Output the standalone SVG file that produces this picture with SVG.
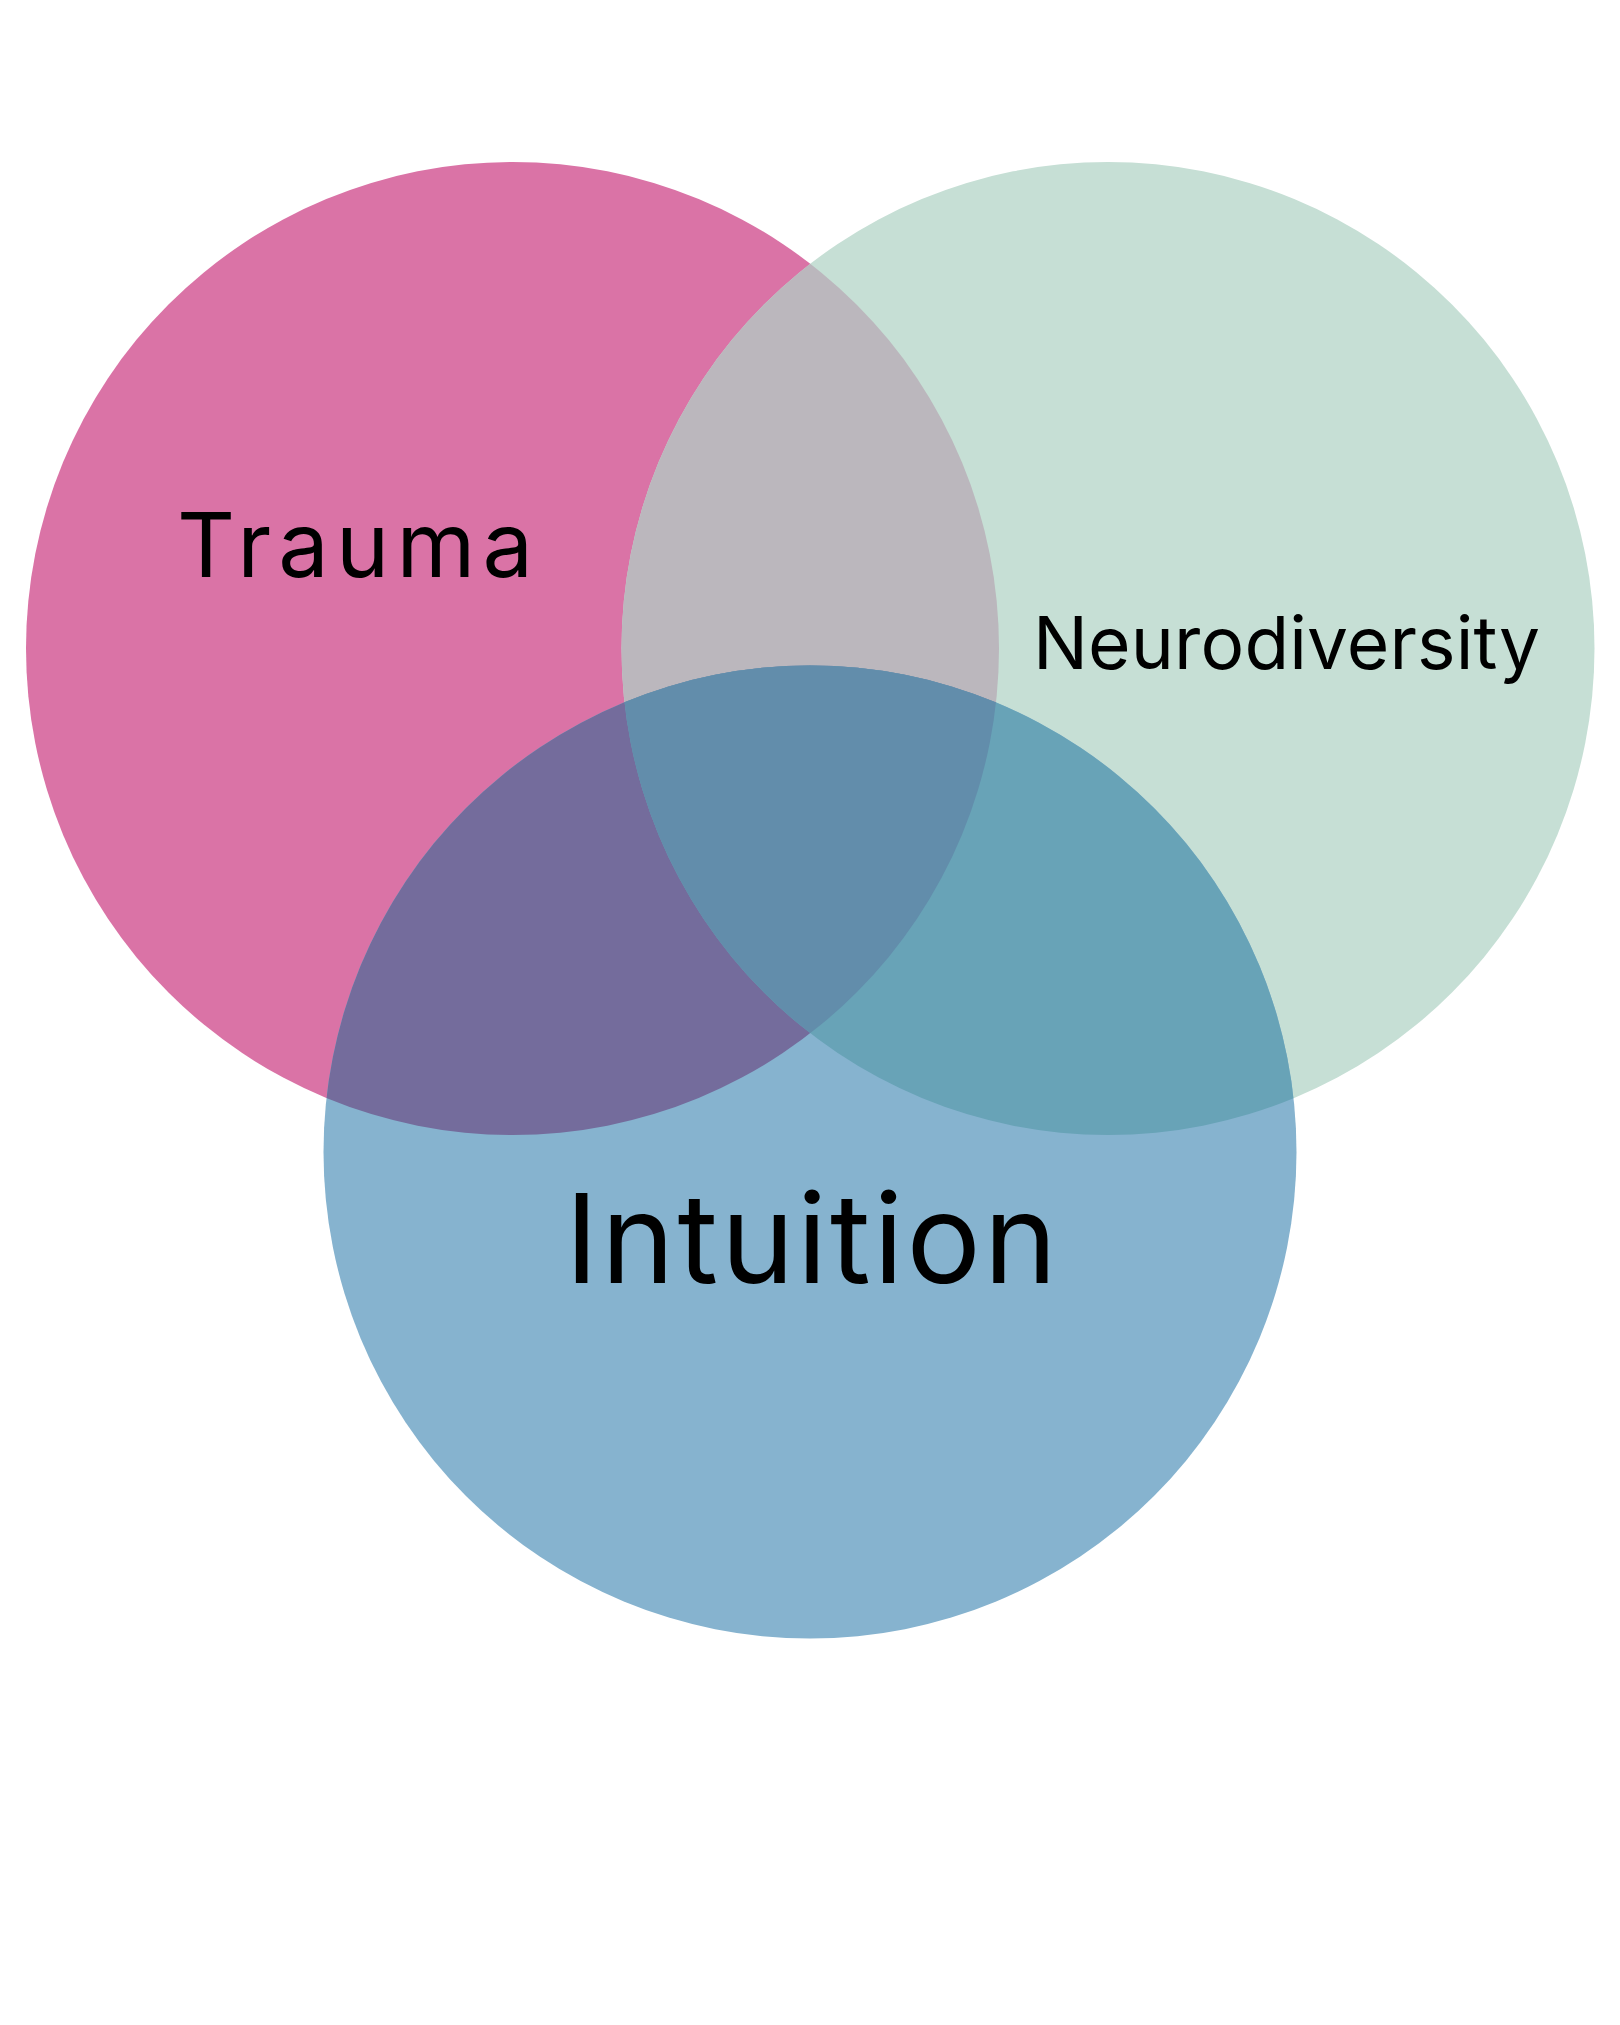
<svg xmlns="http://www.w3.org/2000/svg" width="1620" height="2025" viewBox="0 0 1620 2025">
  <style>
    .lbl { font-family: Inter, "DejaVu Sans", sans-serif; font-weight: 400; fill: #000; }
  </style>
  <defs>
    <clipPath id="clipT"><circle cx="512.5" cy="648.5" r="486.5"/></clipPath>
    <clipPath id="clipN"><circle cx="1108" cy="648.5" r="486.5"/></clipPath>
    <clipPath id="clipI"><circle cx="810" cy="1152" r="486.5"/></clipPath>
  </defs>
  <rect width="1620" height="2025" fill="#ffffff"/>
  <g id="trauma">
    <circle cx="512.5" cy="648.5" r="486.5" fill="#DA73A6"/>
  </g>
  <g id="neurodiversity">
    <circle cx="1108" cy="648.5" r="486.5" fill="#C6DFD5"/>
  </g>
  <g id="intuition">
    <circle cx="810" cy="1152" r="486.5" fill="#86B3CF"/>
  </g>
  <g id="overlaps">
    <g clip-path="url(#clipT)">
      <circle cx="1108" cy="648.5" r="486.5" fill="#BBB7BD"/>
      <circle cx="810" cy="1152" r="486.5" fill="#746C9C"/>
    </g>
    <g clip-path="url(#clipN)">
      <circle cx="810" cy="1152" r="486.5" fill="#68A3B7"/>
    </g>
    <g clip-path="url(#clipN)">
      <g clip-path="url(#clipT)">
        <circle cx="810" cy="1152" r="486.5" fill="#628DAB"/>
      </g>
    </g>
  </g>
  <g id="labels">
    <text class="lbl" x="177" y="577" font-size="90" textLength="356" lengthAdjust="spacing">Trauma</text>
    <text class="lbl" x="1033" y="669" font-size="73" textLength="507" lengthAdjust="spacing">Neurodiversity</text>
    <text class="lbl" x="565" y="1283" font-size="124" textLength="492" lengthAdjust="spacing">Intuition</text>
  </g>
</svg>
